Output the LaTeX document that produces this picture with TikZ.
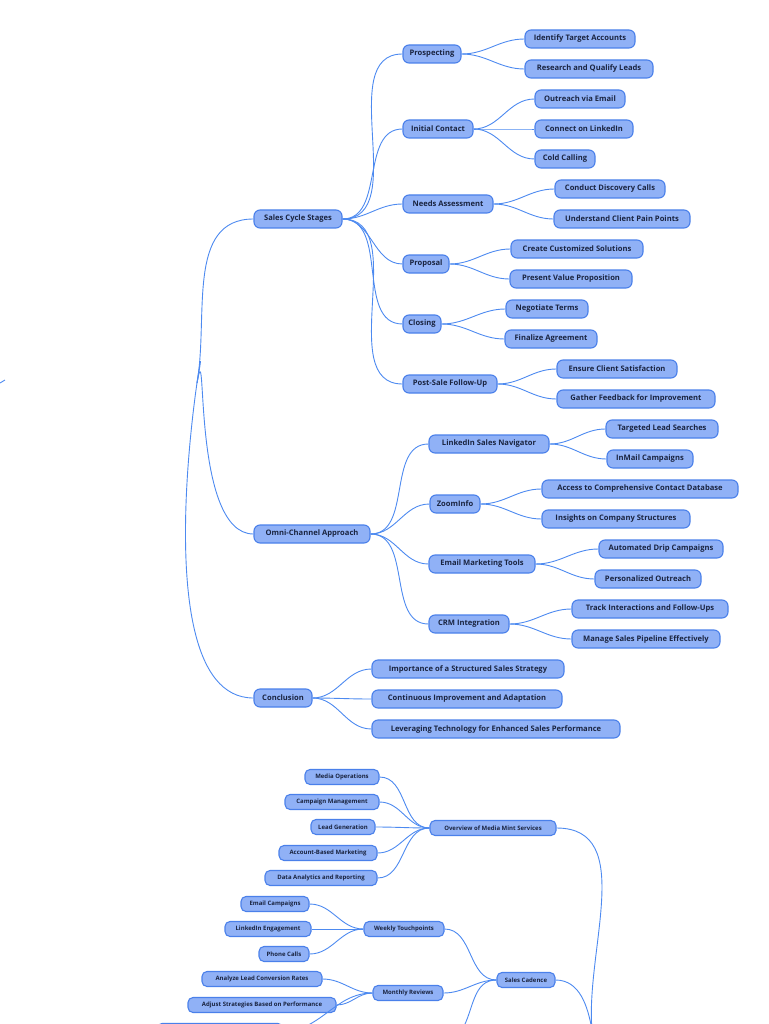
\documentclass[tikz,border=0pt]{standalone}
\usepackage{fontspec}
\setmainfont{Open Sans}
\definecolor{nfill}{HTML}{90B1F6}
\definecolor{ndraw}{HTML}{4A80EA}
\definecolor{edge}{HTML}{4D8AF0}
\definecolor{ntext}{HTML}{1A2440}
\begin{document}
\begin{tikzpicture}[x=1pt,y=-1pt,
  n/.style={draw=ndraw,line width=1.1pt,fill=nfill,rounded corners=6pt,minimum height=18pt,inner sep=1.5pt,text=ntext,font=\fontsize{7.6}{8.5}\selectfont\bfseries},
  s/.style={n,minimum height=15pt,rounded corners=5pt,font=\fontsize{6}{7}\selectfont\bfseries},
  e/.style={draw=edge,line width=0.9pt},
  r/.style={e,out=0,in=180},
  l/.style={e,out=180,in=0}]
\useasboundingbox (0,0) rectangle (768,1024);
\coordinate (root) at (197,383);
\node[n,minimum width=88] (scs) at (298,219) {Sales Cycle Stages};
\node[n,minimum width=116] (oca) at (312,534) {Omni-Channel Approach};
\node[n,minimum width=58] (con) at (283,698) {Conclusion};
\foreach \t in {scs,oca,con} \draw[e] (root) to[out=80,in=180] (\t.west);
\coordinate (stub) at (0,383);
\draw[e] (stub) -- ++(5,-3);
% SCS
\node[n,minimum width=58] (p1) at (432,54) {Prospecting};
\node[n,minimum width=70] (p2) at (438,129) {Initial Contact};
\node[n,minimum width=90] (p3) at (448,204) {Needs Assessment};
\node[n,minimum width=46] (p4) at (426,264) {Proposal};
\node[n,minimum width=38] (p5) at (422,324) {Closing};
\node[n,minimum width=94] (p6) at (450,384) {Post-Sale Follow-Up};
\foreach \t in {p1,p2,p3,p4,p5,p6} \draw[r] (scs.east) to (\t.west);
\node[n,minimum width=110] (a1) at (580,39) {Identify Target Accounts};
\node[n,minimum width=128] (a2) at (589,69) {Research and Qualify Leads};
\foreach \t in {a1,a2} \draw[r] (p1.east) to (\t.west);
\node[n,minimum width=90] (b1) at (580,99) {Outreach via Email};
\node[n,minimum width=98] (b2) at (584,129) {Connect on LinkedIn};
\node[n,minimum width=60] (b3) at (565,159) {Cold Calling};
\foreach \t in {b1,b2,b3} \draw[r] (p2.east) to (\t.west);
\node[n,minimum width=110] (c1) at (610,189) {Conduct Discovery Calls};
\node[n,minimum width=136] (c2) at (622,219) {Understand Client Pain Points};
\foreach \t in {c1,c2} \draw[r] (p3.east) to (\t.west);
\node[n,minimum width=132] (d1) at (577,249) {Create Customized Solutions};
\node[n,minimum width=122] (d2) at (571,279) {Present Value Proposition};
\foreach \t in {d1,d2} \draw[r] (p4.east) to (\t.west);
\node[n,minimum width=82] (f1) at (547,309) {Negotiate Terms};
\node[n,minimum width=92] (f2) at (551,339) {Finalize Agreement};
\foreach \t in {f1,f2} \draw[r] (p5.east) to (\t.west);
\node[n,minimum width=120] (g1) at (617,369) {Ensure Client Satisfaction};
\node[n,minimum width=158] (g2) at (636,399) {Gather Feedback for Improvement};
\foreach \t in {g1,g2} \draw[r] (p6.east) to (\t.west);
% OCA
\node[n,minimum width=120] (q1) at (489,444) {LinkedIn Sales Navigator};
\node[n,minimum width=50] (q2) at (455,504) {ZoomInfo};
\node[n,minimum width=106] (q3) at (482,564) {Email Marketing Tools};
\node[n,minimum width=80] (q4) at (469,624) {CRM Integration};
\foreach \t in {q1,q2,q3,q4} \draw[r] (oca.east) to (\t.west);
\node[n,minimum width=112] (h1) at (662,429) {Targeted Lead Searches};
\node[n,minimum width=86] (h2) at (650,459) {InMail Campaigns};
\foreach \t in {h1,h2} \draw[r] (q1.east) to (\t.west);
\node[n,minimum width=196] (i1) at (640,489) {Access to Comprehensive Contact Database};
\node[n,minimum width=148] (i2) at (616,519) {Insights on Company Structures};
\foreach \t in {i1,i2} \draw[r] (q2.east) to (\t.west);
\node[n,minimum width=124] (j1) at (661,549) {Automated Drip Campaigns};
\node[n,minimum width=106] (j2) at (648,579) {Personalized Outreach};
\foreach \t in {j1,j2} \draw[r] (q3.east) to (\t.west);
\node[n,minimum width=156] (k1) at (650,609) {Track Interactions and Follow-Ups};
\node[n,minimum width=148] (k2) at (646,639) {Manage Sales Pipeline Effectively};
\foreach \t in {k1,k2} \draw[r] (q4.east) to (\t.west);
% Conclusion
\node[n,minimum width=192] (m1) at (468,669) {Importance of a Structured Sales Strategy};
\node[n,minimum width=190] (m2) at (467,699) {Continuous Improvement and Adaptation};
\node[n,minimum width=248] (m3) at (496,729) {Leveraging Technology for Enhanced Sales Performance};
\foreach \t in {m1,m2,m3} \draw[r] (con.east) to (\t.west);
% bottom map
\coordinate (off1) at (592,1030);
\coordinate (off2) at (462,1030);
\node[s,minimum width=126] (ov) at (493,828) {Overview of Media Mint Services};
\node[s,minimum width=58] (sc) at (526,980) {Sales Cadence};
\draw[e] (ov.east) to[out=0,in=95] (off1);
\draw[e] (sc.east) to[out=0,in=100] (off1);
\node[s,minimum width=74] (o1) at (342,777) {Media Operations};
\node[s,minimum width=94] (o2) at (332,802) {Campaign Management};
\node[s,minimum width=64] (o3) at (343,827) {Lead Generation};
\node[s,minimum width=98] (o4) at (328,853) {Account-Based Marketing};
\node[s,minimum width=112] (o5) at (321,878) {Data Analytics and Reporting};
\foreach \t in {o1,o2,o3,o4,o5} \draw[l] (ov.west) to (\t.east);
\node[s,minimum width=80] (wt) at (404,929) {Weekly Touchpoints};
\node[s,minimum width=70] (mr) at (408,993) {Monthly Reviews};
\draw[l] (sc.west) to (wt.east);
\draw[l] (sc.west) to (mr.east);
\draw[e] (sc.west) to[out=180,in=60] (off2);
\node[s,minimum width=68] (w1) at (275,904) {Email Campaigns};
\node[s,minimum width=86] (w2) at (268,929) {LinkedIn Engagement};
\node[s,minimum width=50] (w3) at (284,954) {Phone Calls};
\foreach \t in {w1,w2,w3} \draw[l] (wt.west) to (\t.east);
\node[s,minimum width=120] (r1) at (262,979) {Analyze Lead Conversion Rates};
\node[s,minimum width=148] (r2) at (262,1005) {Adjust Strategies Based on Performance};
\node[s,minimum width=126] (r3) at (220,1031) {};
\foreach \t in {r1,r2,r3} \draw[l] (mr.west) to (\t.east);
\end{tikzpicture}
\end{document}
